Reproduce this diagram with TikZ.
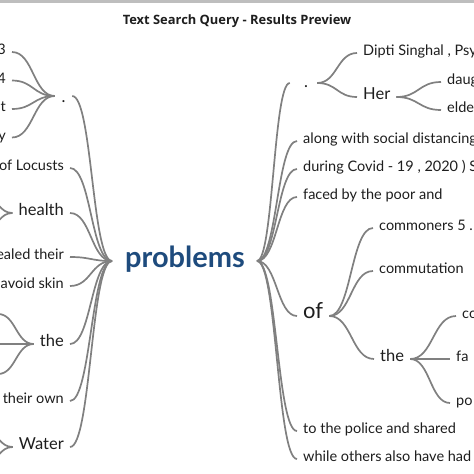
\documentclass[tikz,border=0pt]{standalone}
\usepackage{fontspec}
\setmainfont{Lato}
\newfontfamily\titlefont{Open Sans}
\usetikzlibrary{calc}
\definecolor{linegray}{RGB}{128,128,128}
\definecolor{topbar}{RGB}{190,190,190}
\definecolor{txt}{RGB}{30,30,30}
\definecolor{centerblue}{RGB}{30,75,125}
\begin{document}
\begin{tikzpicture}[x=1pt,y=-1pt,
  conn/.style={draw=linegray, line width=1.7pt},
  hc/.style={to path={let \p1=(\tikztostart), \p2=(\tikztotarget) in
     .. controls ({\x1+0.5*(\x2-\x1)},\y1) and ({\x2-0.5*(\x2-\x1)},\y2) .. (\tikztotarget)}},
  base/.style={inner xsep=6pt, inner ysep=0pt, text=txt, text height=0.72em, text depth=0.2em},
  leaf/.style={base, font=\fontsize{14.5}{16}\selectfont},
  mid/.style={base, font=\fontsize{16.5}{18}\selectfont},
  big/.style={base, font=\fontsize{22}{24}\selectfont},
  dotnode/.style={inner sep=0pt, text=txt, text height=9pt, text depth=0pt, font=\fontsize{16.5}{18}\selectfont},
  lft/.style={anchor=east},
  rgt/.style={anchor=west}]
\useasboundingbox (0,0) rectangle (474,474);
\clip (0,0) rectangle (474,474);
\fill[white] (0,0) rectangle (474,474);
\fill[topbar] (0,0) rectangle (474,3);
\node[font=\titlefont\bfseries\fontsize{12.9}{14}\selectfont, text=txt] (title) at (237,21) {Text Search Query - Results Preview};

% center
\node[font=\bfseries\fontsize{29}{32}\selectfont, text=centerblue, inner sep=0pt] (prob) at (185,259) {problems};
\coordinate (jl) at (112,261);
\coordinate (jr) at (257,261);

% left side
\node[leaf,lft] (t3) at (12,52) {3};
\node[leaf,lft] (t4) at (12,80.5) {4};
\node[leaf,lft] (tt) at (12,109) {t};
\node[leaf,lft] (ty) at (12,137.5) {y};
\node[dotnode,text height=13pt,minimum width=17pt] (ldot) at (63.5,96) {.};
\node[leaf,lft] (locusts) at (70,168) {of Locusts};
\node[mid,lft] (health) at (70,213) {health};
\node[leaf,lft] (ealed) at (70,257) {ealed their};
\node[leaf,lft] (avoid) at (70,286) {avoid skin};
\node[mid,lft] (lthe) at (70,344) {the};
\node[leaf,lft] (ownl) at (70,401) {their own};
\node[mid,lft] (water) at (70,447) {Water};

\coordinate (h1) at (-14,199);
\coordinate (h2) at (-14,227);
\coordinate (e1) at (-2,314);
\coordinate (e2) at (-2,344);
\coordinate (e3) at (-2,374);
\coordinate (w1) at (-14,433);
\coordinate (w2) at (-14,461);

% right side
\node[dotnode,minimum width=22pt] (rdot) at (306,83) {.};
\node[leaf,rgt] (dipti) at (357,53) {Dipti Singhal , Psy};
\node[mid,rgt] (her) at (357,97) {Her};
\node[leaf,rgt] (daug) at (441,82) {daug};
\node[leaf,rgt] (elde) at (441,110) {elde};
\node[leaf,rgt] (along) at (297,141) {along with social distancing};
\node[leaf,rgt] (during) at (297,169) {during Covid - 19 , 2020 ) S};
\node[leaf,rgt] (faced) at (297,197) {faced by the poor and};
\node[big,rgt] (rof) at (297,316) {of};
\node[leaf,rgt] (commoners) at (373,228) {commoners 5 .};
\node[leaf,rgt] (commutation) at (373,271) {commutation};
\node[mid,rgt] (rthe) at (374,359) {the};
\node[leaf,rgt] (co) at (456,316) {co};
\node[leaf,rgt] (fa) at (450,359) {fa};
\node[leaf,rgt] (po) at (450,403) {po};
\node[leaf,rgt] (police) at (297,431) {to the police and shared};
\node[leaf,rgt] (while) at (297,459) {while others also have had};

% connectors left
\foreach \nm in {ldot,locusts,health,ealed,avoid,lthe,ownl,water}
  \draw[conn] (jl) to[hc] (\nm.east);
\foreach \nm in {t3,t4,tt,ty}
  \draw[conn] (ldot.west) to[hc] (\nm.east);
\foreach \nm in {h1,h2}
  \draw[conn] (health.west) to[hc] (\nm);
\foreach \nm in {e1,e2,e3}
  \draw[conn] (lthe.west) to[hc] (\nm);
\foreach \nm in {w1,w2}
  \draw[conn] (water.west) to[hc] (\nm);

% connectors right
\foreach \nm in {along,during,faced,rof,police,while}
  \draw[conn] (jr) to[hc] (\nm.west);
\draw[conn] (jr) to[hc] ([xshift=-5pt]rdot.west);
\foreach \nm in {dipti,her}
  \draw[conn] (rdot.east) to[hc] (\nm.west);
\foreach \nm in {daug,elde}
  \draw[conn] (her.east) to[hc] (\nm.west);
\foreach \nm in {commoners,commutation,rthe}
  \draw[conn] (rof.east) to[hc] (\nm.west);
\foreach \nm in {co,fa,po}
  \draw[conn] (rthe.east) to[hc] (\nm.west);
\end{tikzpicture}
\end{document}
